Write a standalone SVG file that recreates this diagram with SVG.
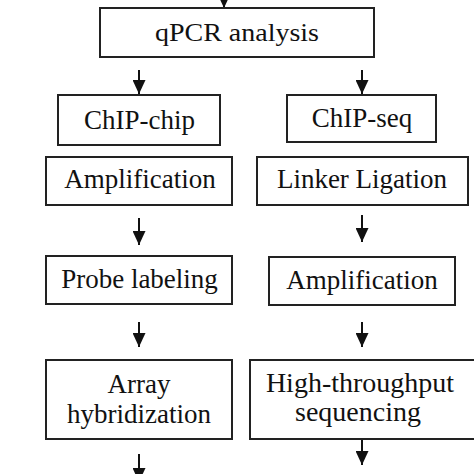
<svg xmlns="http://www.w3.org/2000/svg" width="474" height="474" viewBox="0 0 474 474">
<defs>
<marker id="ah" markerUnits="userSpaceOnUse" markerWidth="14" markerHeight="13" viewBox="0 0 14 13" refX="14" refY="6.5" orient="auto">
<path d="M0,0 L14,6.5 L0,13 Z" fill="#111"/>
</marker>
<style>
.box{fill:#fff;stroke:#222;stroke-width:2}
.t{font-family:"Liberation Serif","Times New Roman",serif;font-size:27px;fill:#111;text-anchor:middle}
.c{stroke:#111;stroke-width:2;fill:none;marker-end:url(#ah)}
</style>
</defs>
<rect width="474" height="474" fill="#fff"/>
<g id="connectors">
<line class="c" x1="224" y1="-10" x2="224" y2="8"/>
<line class="c" x1="139" y1="70" x2="139" y2="94"/>
<line class="c" x1="362" y1="70" x2="362" y2="94"/>
<line class="c" x1="139" y1="218" x2="139" y2="245"/>
<line class="c" x1="362" y1="215" x2="362" y2="242"/>
<line class="c" x1="139" y1="322" x2="139" y2="347"/>
<line class="c" x1="362" y1="322" x2="362" y2="347"/>
<line class="c" x1="362" y1="439" x2="362" y2="465"/>
<line class="c" x1="139" y1="454" x2="139" y2="482"/>
</g>
<g id="qpcr">
<rect class="box" x="100" y="8" width="274" height="49"/>
<text class="t" x="237" y="41" style="font-size:25px" textLength="164" lengthAdjust="spacingAndGlyphs">qPCR analysis</text>
</g>
<g id="chipchip">
<rect class="box" x="58" y="95" width="162" height="50"/>
<text class="t" x="139.5" y="129">ChIP-chip</text>
</g>
<g id="chipseq">
<rect class="box" x="287" y="95" width="149" height="47"/>
<text class="t" x="362" y="127">ChIP-seq</text>
</g>
<g id="amp-left">
<rect class="box" x="46" y="157" width="186" height="48"/>
<text class="t" x="140" y="188">Amplification</text>
</g>
<g id="linker">
<rect class="box" x="257" y="157" width="211" height="48"/>
<text class="t" x="362" y="188">Linker Ligation</text>
</g>
<g id="probe">
<rect class="box" x="46" y="256" width="186" height="48"/>
<text class="t" x="139.5" y="288">Probe labeling</text>
</g>
<g id="amp-right">
<rect class="box" x="269" y="257" width="186" height="48"/>
<text class="t" x="362" y="289">Amplification</text>
</g>
<g id="array">
<rect class="box" x="46" y="360" width="186" height="79"/>
<text class="t" x="139" y="393">Array</text>
<text class="t" x="139" y="423">hybridization</text>
</g>
<g id="hts">
<rect class="box" x="250" y="360" width="226" height="79"/>
<text class="t" x="360" y="392" style="font-size:28px">High-throughput</text>
<text class="t" x="358" y="421" style="font-size:28px">sequencing</text>
</g>
</svg>
